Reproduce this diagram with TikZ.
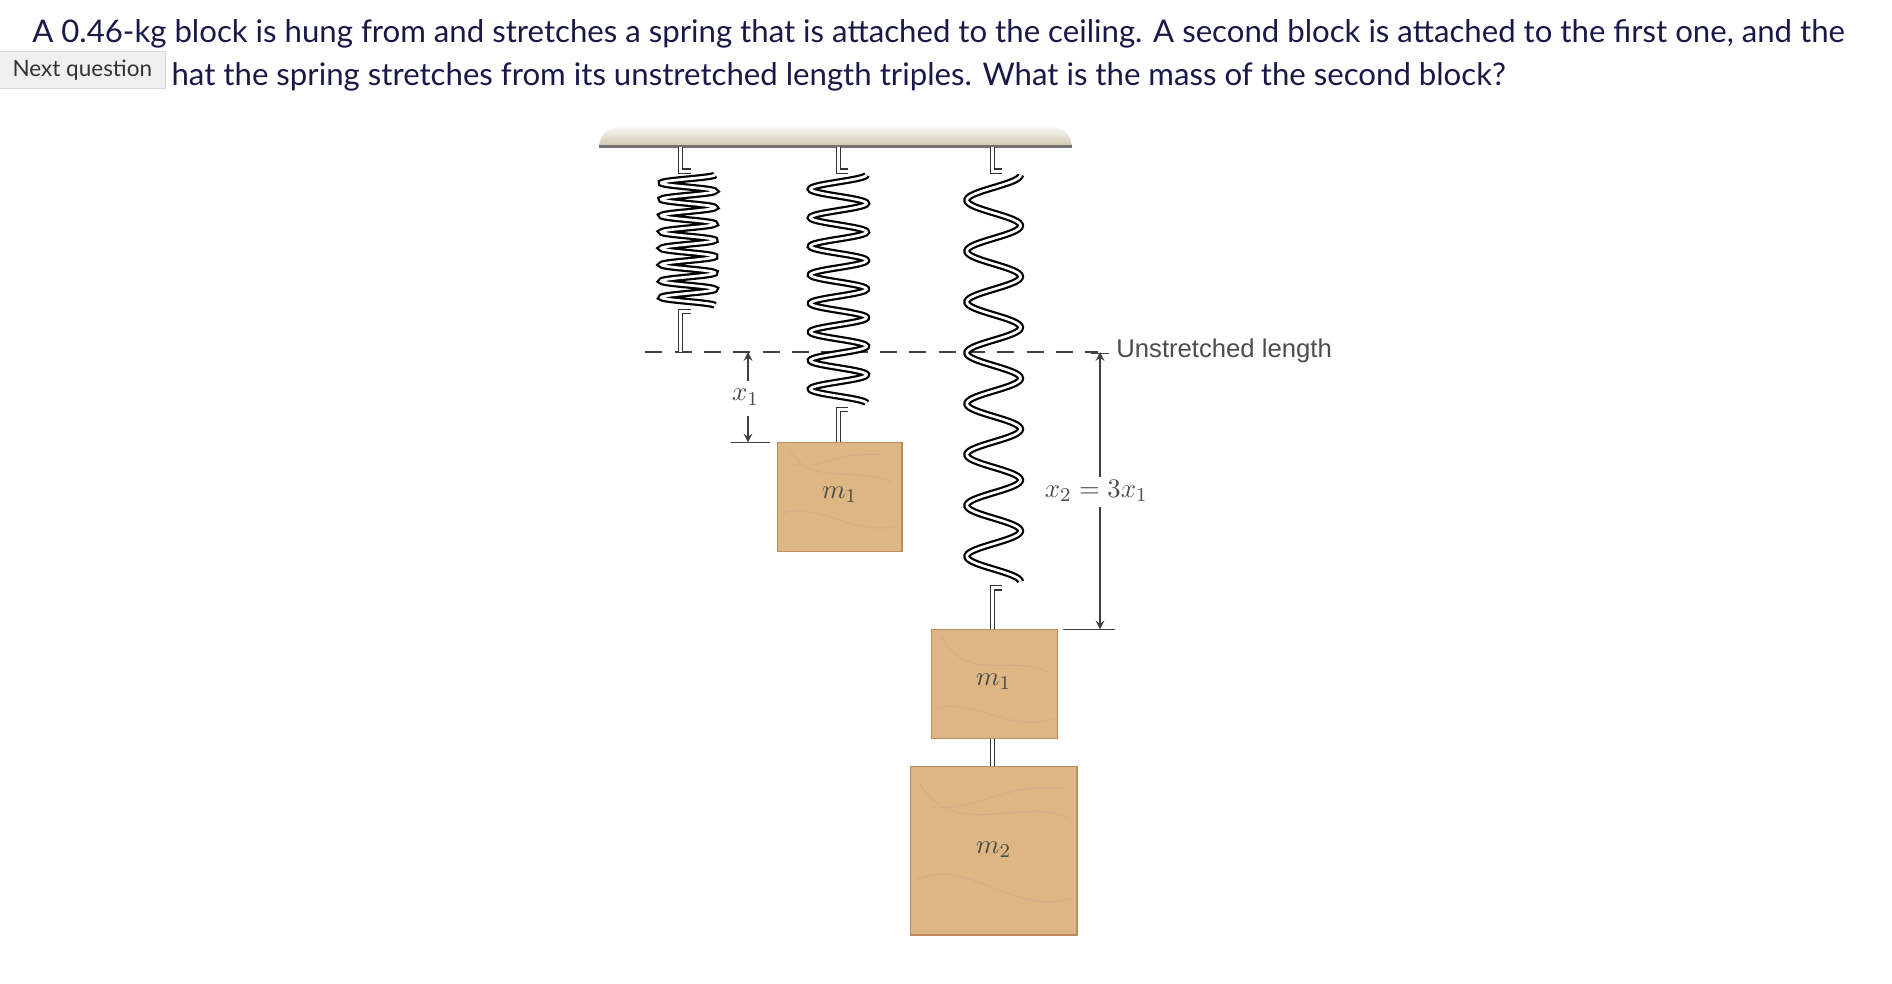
\documentclass[tikz,border=0pt]{standalone}
\usepackage{fontspec}
\setmainfont{Lato}
\newfontfamily\figfont{Liberation Sans}
\begin{document}
\begin{tikzpicture}[x=0.5pt,y=-0.5pt,
  wood/.style={fill=woodc,draw=woodd,line width=0.6pt},
  grain/.style={draw=woodd!70,line width=0.4pt},
  rod/.style={draw=black!80,double=white,double distance=1.2pt,line width=0.5pt},
  coil/.style={draw=black,double=white,double distance=1.1pt,line width=0.9pt},
  dim/.style={draw=black!75,line width=0.6pt},
  mlab/.style={font=\itshape\fontsize{11}{11}\selectfont,text=black!70},
  qtext/.style={font=\fontsize{12.75}{14}\selectfont,text=black!80!blue!90,anchor=west,inner sep=0}]
\definecolor{woodc}{RGB}{222,182,131}
\definecolor{woodd}{RGB}{190,140,90}
\definecolor{ceil}{RGB}{205,196,170}
\useasboundingbox (0,0) rectangle (1548,805);
% question text
\node[qtext] (q1) at (26,28) {A 0.46-kg block is hung from and stretches a spring that is attached to the ceiling. A second block is attached to the first one, and the};
\node[qtext] (q2) at (140,63) {hat the spring stretches from its unstretched length triples. What is the mass of the second block?};
\node[draw=black!15,fill=black!6,text=black!80,font=\fontsize{9.2}{10}\selectfont,inner sep=0,minimum width=68pt,minimum height=15pt,anchor=north west] (nq) at (-1,42) {Next question};
% ceiling
\shade[top color=white,bottom color=ceil] (490,120) .. controls (492,106) and (500,103) .. (520,102) -- (850,102) .. controls (870,103) and (876,108) .. (877,120) -- cycle;
\draw[black!55,line width=1.2pt] (490,120) -- (877,120);
% dashed line
\draw[dim,dashed,dash pattern=on 7pt off 5pt] (528,288) -- (898,288);
% spring 1
\draw[rod] (557,120) -- (557,140) -- (565,140);
\draw[coil] plot[domain=0:1,samples=200,variable=\t] ({563+22*sin(90+\t*8*360)},{143+107*\t});
\draw[rod] (565,255) -- (557,255) -- (557,288);
% spring 2
\draw[rod] (686,120) -- (686,140) -- (694,140);
\draw[coil] plot[domain=0:1,samples=240,variable=\t] ({686+23*sin(90+\t*8*360)},{143+187*\t});
\draw[rod] (694,335) -- (686,335) -- (686,362);
% spring 3
\draw[rod] (812,120) -- (812,140) -- (820,140);
\draw[coil] plot[domain=0:1,samples=280,variable=\t] ({813+22*sin(90+\t*8*360)},{143+333*\t});
\draw[rod] (820,481) -- (812,481) -- (812,515);
\draw[rod] (812,604) -- (812,627);
% blocks
\draw[wood] (636,362) rectangle (738,451);
\draw[grain] (645,365) .. controls (660,400) and (700,380) .. (730,395) (640,420) .. controls (670,410) and (700,440) .. (735,430) (650,380) .. controls (670,385) and (680,370) .. (720,372);
\node[mlab] (m1a) at (687,405) {$m_1$};
\draw[wood] (762,515) rectangle (865,604);
\draw[grain] (770,520) .. controls (790,560) and (830,535) .. (858,550) (765,580) .. controls (795,570) and (825,600) .. (862,588);
\node[mlab] (m1b) at (813,558) {$m_1$};
\draw[wood] (745,627) rectangle (881,765);
\draw[grain] (752,640) .. controls (780,690) and (840,650) .. (875,670) (750,720) .. controls (790,700) and (830,750) .. (876,735) (760,660) .. controls (800,665) and (820,640) .. (870,645);
\node[mlab] (m2) at (813,695) {$m_2$};
% x1 dimension
\coordinate (x1t) at (612,288);
\coordinate (x1b) at (612,362);
\draw[dim] (598,362) -- (630,362);
\draw[dim,->,>=stealth] (612,312) -- (x1t);
\draw[dim,->,>=stealth] (612,340) -- (x1b);
\node[mlab,fill=white,inner sep=1pt] (x1l) at (610,325) {$x_1$};
% x2 dimension
\coordinate (x2t) at (900,288);
\coordinate (x2b) at (900,515);
\draw[dim] (870,515) -- (912,515);
\draw[dim] (893,289) -- (907,289);
\draw[dim,->,>=stealth] (900,390) -- (x2t);
\draw[dim,->,>=stealth] (900,415) -- (x2b);
\node[mlab,fill=white,inner sep=1pt] (x2l) at (897,402) {$x_2 = 3x_1$};
\node[font=\figfont\fontsize{10.5}{12}\selectfont,text=black!70,anchor=west,inner sep=0] (ul) at (913,287) {Unstretched length};
% bottom line
\draw[black!12,line width=0.8pt] (490,815) -- (877,815);
\end{tikzpicture}
\end{document}
